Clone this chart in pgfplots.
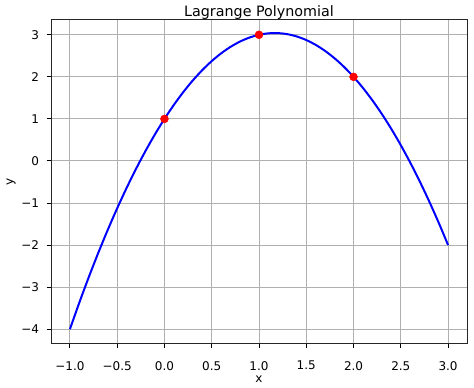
\documentclass[border=0pt]{standalone}
\usepackage{pgfplots}
\pgfplotsset{compat=1.18}
\usepackage{fontspec}
\setmainfont{DejaVu Sans}
\begin{document}
\begin{tikzpicture}
\useasboundingbox (0,0) rectangle (474pt,388pt);
\begin{axis}[
  at={(51pt,44pt)}, anchor=south west,
  scale only axis,
  width=416pt, height=324pt,
  xmin=-1.2, xmax=3.2, ymin=-4.352, ymax=3.352,
  xtick={-1,-0.5,0,0.5,1,1.5,2,2.5,3}, ytick={-4,-3,-2,-1,0,1,2,3},
  xticklabels={−1.0,−0.5,0.0,0.5,1.0,1.5,2.0,2.5,3.0},
  yticklabels={−4,−3,−2,−1,0,1,2,3},
  ticklabel style={font=\fontsize{12}{14}\selectfont},
  xticklabel style={anchor=north, inner sep=0pt, yshift=-12.5pt},
  yticklabel style={anchor=east, xshift=-4pt},
  grid=major,
  major grid style={color=black!31, line width=1pt},
  tick style={black, line width=1pt},
  tick align=outside,
  major tick length=4.5pt,
  xtick pos=bottom, ytick pos=left,
  axis line style={line width=1pt, black!85},
  title={Lagrange Polynomial},
  title style={font=\fontsize{14.3}{16}\selectfont, at={(axis description cs:0.5,1)}, anchor=base, yshift=-3pt},
  xlabel={x}, ylabel={y},
  label style={font=\fontsize{12}{14}\selectfont, inner sep=0pt},
  xlabel style={at={(axis description cs:0.5,0)}, anchor=center, yshift=-35pt},
  ylabel style={at={(axis description cs:-0.0962,0.5)}, anchor=center},
]
\addplot[blue, line width=2pt, smooth] coordinates {
(-1.0,-4) (-0.9,-3.365) (-0.8,-2.76) (-0.7,-2.185) (-0.6,-1.64) (-0.5,-1.125)
(-0.4,-0.64) (-0.3,-0.185) (-0.2,0.24) (-0.1,0.635) (0,1) (0.1,1.335) (0.2,1.64)
(0.3,1.915) (0.4,2.16) (0.5,2.375) (0.6,2.56) (0.7,2.715) (0.8,2.84) (0.9,2.935)
(1.0,3) (1.1,3.035) (1.2,3.04) (1.3,3.015) (1.4,2.96) (1.5,2.875) (1.6,2.76)
(1.7,2.615) (1.8,2.44) (1.9,2.235) (2.0,2) (2.1,1.735) (2.2,1.44) (2.3,1.115)
(2.4,0.76) (2.5,0.375) (2.6,-0.04) (2.7,-0.485) (2.8,-0.96) (2.9,-1.465) (3.0,-2)
};
\addplot[only marks, mark=*, mark size=4pt, color=red, mark options={fill=red}] coordinates {(0,1) (1,3) (2,2)};
\end{axis}
\end{tikzpicture}
\end{document}
